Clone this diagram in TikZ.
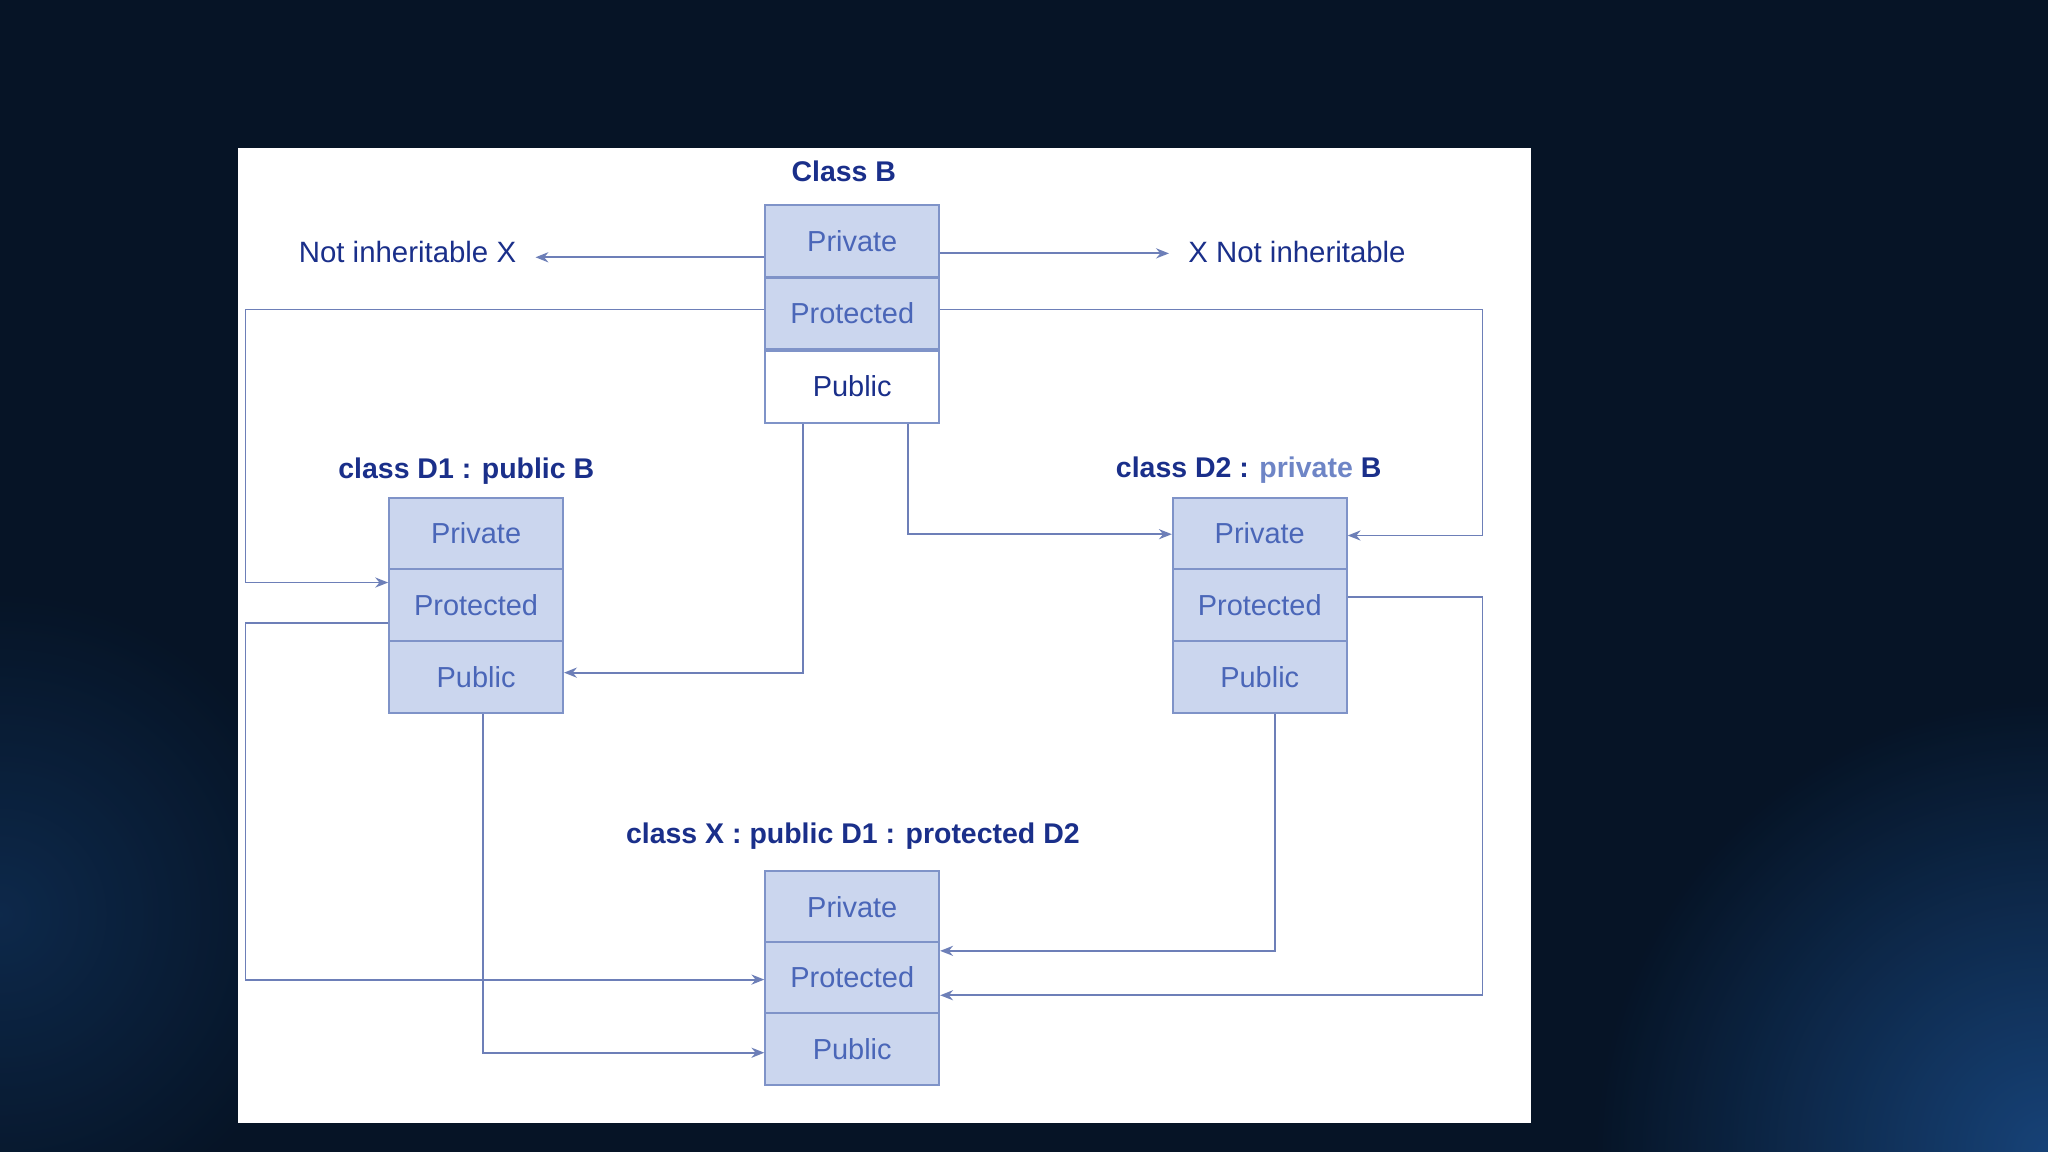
\documentclass[tikz,border=0pt]{standalone}
\usepackage{fontspec}
\setmainfont{Liberation Sans}
\usetikzlibrary{arrows.meta}
\definecolor{bgA}{HTML}{061426}
\definecolor{bgB}{HTML}{1B4E8C}
\definecolor{boxfill}{HTML}{CBD6EE}
\definecolor{boxline}{HTML}{7F93C8}
\definecolor{boxtext}{HTML}{4A66B8}
\definecolor{ttl}{HTML}{1A2F8A}
\definecolor{conn}{HTML}{6D7FB8}
\begin{document}
\begin{tikzpicture}[x=0.01cm,y=-0.01cm,
  cell/.style={draw=boxline,line width=0.45pt,fill=boxfill,text=boxtext,minimum width=1.33cm,minimum height=0.55cm,inner sep=0pt,font=\fontsize{6.3}{7}\selectfont},
  whitecell/.style={cell,fill=white,text=ttl},
  ttlstyle/.style={text=ttl,font=\bfseries\fontsize{6.2}{7}\selectfont,inner sep=0pt},
  lbl/.style={text=ttl,font=\fontsize{6.4}{7}\selectfont,inner sep=0pt},
  con/.style={draw=conn,line width=0.4pt,-{Stealth[length=2.8pt,width=2.2pt]}}]
\useasboundingbox (0,0) rectangle (1568,882);
\fill[bgA] (0,0) rectangle (1568,882);
\shade[inner color=bgB,outer color=bgA,opacity=0.8] (1568,882) circle (350);
\shade[inner color=bgB!60!bgA,outer color=bgA,opacity=0.6] (0,700) circle (250);
\fill[white] (182,113) rectangle (1172,860);
% Class B
\node[cell] (Bpv) at (652.5,184.5) {Private};
\node[cell] (Bpt) at (652.5,240) {Protected};
\node[whitecell] (Bpb) at (652.5,296) {Public};
\node[ttlstyle] (Bt) at (646,131) {Class B};
% D1
\node[cell] (D1pv) at (364.5,408.5) {Private};
\node[cell] (D1pt) at (364.5,463.5) {Protected};
\node[cell] (D1pb) at (364.5,518.5) {Public};
\node[ttlstyle] (D1t) at (357,361) {class D1 : public B};
% D2
\node[cell] (D2pv) at (964.5,408.5) {Private};
\node[cell] (D2pt) at (964.5,463.5) {Protected};
\node[cell] (D2pb) at (964.5,518.5) {Public};
\node[ttlstyle] (D2t) at (956,360) {class D2 : \textcolor{boxtext!80}{private} B};
% X
\node[cell] (Xpv) at (652.5,694.5) {Private};
\node[cell] (Xpt) at (652.5,748.5) {Protected};
\node[cell] (Xpb) at (652.5,803) {Public};
\node[ttlstyle] (Xt) at (653,640) {class X : public D1 : protected D2};
% labels
\node[lbl] (NL) at (312,193) {Not inheritable X};
\node[lbl] (NR) at (993,193) {X Not inheritable};
\coordinate (nl) at (410,197);
\coordinate (nr) at (895,194);
\draw[con] (Bpv.west |- nl) -- (nl);
\draw[con] (Bpv.east |- nr) -- (nr);
\coordinate (a1) at (188,237); \coordinate (a2) at (188,446);
\draw[con] (Bpt.west |- a1) -- (a1) -- (a2) -- (D1pv.west |- a2);
\coordinate (b1) at (1135,237); \coordinate (b2) at (1135,410);
\draw[con] (Bpt.east |- b1) -- (b1) -- (b2) -- (D2pv.east |- b2);
\coordinate (c1) at (615,515);
\draw[con] (Bpb.south -| c1) -- (c1) -- (D1pb.east |- c1);
\coordinate (d1) at (695,409);
\draw[con] (Bpb.south -| d1) -- (d1) -- (D2pv.west |- d1);
\coordinate (e1) at (188,477); \coordinate (e2) at (188,750);
\draw[con] (D1pt.west |- e1) -- (e1) -- (e2) -- (Xpt.west |- e2);
\coordinate (f1) at (370,806);
\draw[con] (D1pb.south -| f1) -- (f1) -- (Xpb.west |- f1);
\coordinate (g1) at (976,728);
\draw[con] (D2pb.south -| g1) -- (g1) -- (Xpv.east |- g1);
\coordinate (h1) at (1135,457); \coordinate (h2) at (1135,762);
\draw[con] (D2pt.east |- h1) -- (h1) -- (h2) -- (Xpt.east |- h2);
\end{tikzpicture}
\end{document}
